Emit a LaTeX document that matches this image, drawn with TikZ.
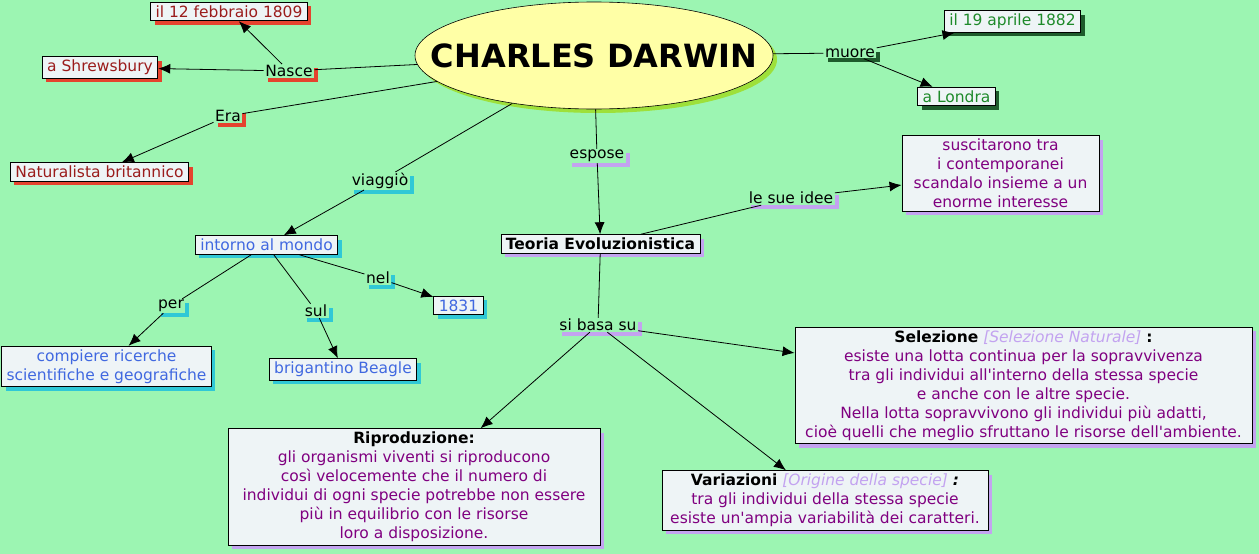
\documentclass[tikz,border=0pt]{standalone}
\usepackage{fontspec}
\setmainfont{DejaVu Sans}
\usepackage{xcolor}
\usepackage{tikz}
\usetikzlibrary{shapes.geometric,arrows.meta,shadows}
\definecolor{cdbg}{HTML}{9CF5B2}
\definecolor{cdbox}{HTML}{EEF4F6}
\definecolor{cdsun}{HTML}{FFFFA6}
\definecolor{cdlime}{HTML}{9EE03A}
\definecolor{cdred}{HTML}{E5432E}
\definecolor{cdwine}{HTML}{9B1C1C}
\definecolor{cdpine}{HTML}{1E5B2C}
\definecolor{cdleaf}{HTML}{1E8A2A}
\definecolor{cdlav}{HTML}{C3A3F0}
\definecolor{cdplum}{HTML}{800080}
\definecolor{cdteal}{HTML}{30C8D6}
\definecolor{cdroyal}{HTML}{4068E0}
\tikzset{
  concept/.style={rectangle,draw=black,line width=0.9pt,fill=cdbox,
                  inner xsep=5pt,inner ysep=3.3pt,align=center,
                  font=\fontsize{15.5}{19}\selectfont,
                  drop shadow={shadow xshift=4pt,shadow yshift=-4pt,fill=#1,opacity=1}},
  link/.style={rectangle,fill=cdbg,inner xsep=1.5pt,inner ysep=1pt,text=black,
               font=\fontsize{15.5}{19}\selectfont,
               drop shadow={shadow xshift=4pt,shadow yshift=-4pt,fill=#1,opacity=1}},
  hub/.style={ellipse,draw=black,line width=0.6pt,fill=cdsun,
              minimum width=358pt,minimum height=107pt,
              font=\fontsize{32}{38}\selectfont\bfseries,
              drop shadow={shadow xshift=4pt,shadow yshift=-4pt,fill=cdlime,opacity=1}},
  arc/.style={line width=0.8pt,draw=black},
  arcto/.style={arc,-{Latex[length=12pt,width=10pt]}},
}

\begin{document}
\begin{tikzpicture}[x=1pt,y=-1pt]
  \useasboundingbox (0,0) rectangle (1259,554);
  \fill[cdbg] (0,0) rectangle (1259,554);

  \node[hub] (darwin) at (594,55.5) {\makebox[0pt]{CHARLES DARWIN}};

  \node[link=cdred] (nasce) at (289,71) {Nasce};
  \node[link=cdred] (era) at (228,116) {Era};
  \node[link=cdpine] (muore) at (850,53) {muore};
  \node[link=cdteal] (viaggio) at (380,181) {viaggiò};
  \node[link=cdlav] (espose) at (597,156) {espose};
  \node[link=cdlav] (idee) at (791,198) {le sue idee};
  \node[link=cdlav] (basa) at (598,325) {si basa su};
  \node[link=cdteal] (per) at (171,306) {per};
  \node[link=cdteal] (sul) at (316,311) {sul};
  \node[link=cdteal] (nel) at (378,278) {nel};

  \node[concept=cdred,text=cdwine] (febbraio) at (229,11.5) {il 12 febbraio 1809};
  \node[concept=cdred,text=cdwine] (shrews) at (100,67.5) {a Shrewsbury};
  \node[concept=cdred,text=cdwine] (natur) at (99.5,172) {Naturalista britannico};
  \node[concept=cdpine,text=cdleaf] (aprile) at (1012.5,21.5) {il 19 aprile 1882};
  \node[concept=cdpine,text=cdleaf] (londra) at (956.5,96.5) {a Londra};
  \node[concept=cdlav,text=cdplum,minimum width=197pt] (scandalo) at (1000.5,173.5)
    {suscitarono tra\\ i contemporanei\\scandalo insieme a un\\enorme interesse};
  \node[concept=cdlav,text=black] (teoria) at (600.5,244) {\bfseries Teoria Evoluzionistica};
  \node[concept=cdlav,text=cdplum,minimum width=457pt] (selez) at (1023.5,385.5)
    {{\color{black}\bfseries Selezione} {\color{cdlav}\itshape [Selezione Naturale]} {\color{black}\bfseries :}\\
     esiste una lotta continua per la sopravvivenza\\
     tra gli individui all\textquotesingle interno della stessa specie\\
     e anche con le altre specie.\\
     Nella lotta sopravvivono gli individui più adatti,\\
     cioè quelli che meglio sfruttano le risorse dell\textquotesingle ambiente.};
  \node[concept=cdlav,text=cdplum,minimum width=372pt] (ripro) at (414,487)
    {{\color{black}\bfseries Riproduzione:}\\
     gli organismi viventi si riproducono\\
     così velocemente che il numero di\\
     individui di ogni specie potrebbe non essere\\
     più in equilibrio con le risorse\\
     loro a disposizione.};
  \node[concept=cdlav,text=cdplum,minimum width=326pt] (varia) at (825,500.5)
    {{\color{black}\bfseries Variazioni} {\color{cdlav}\itshape [Origine della specie]} {\color{black}\bfseries\itshape :}\\
     tra gli individui della stessa specie\\
     esiste un\textquotesingle ampia variabilità dei caratteri.};
  \node[concept=cdteal,text=cdroyal] (mondo) at (266.5,245) {intorno al mondo};
  \node[concept=cdteal,text=cdroyal] (anno) at (458.5,305.5) {1831};
  \node[concept=cdteal,text=cdroyal] (beagle) at (343,369.5) {brigantino Beagle};
  \node[concept=cdteal,text=cdroyal] (ricerche) at (106.5,366.5)
    {compiere ricerche\\scientifiche e geografiche};

  \draw[arc] (darwin) -- (nasce);
  \draw[arcto] (nasce) -- (febbraio);
  \draw[arcto] (nasce) -- (shrews);
  \draw[arc] (darwin) -- (era);
  \draw[arcto] (era) -- (natur);
  \draw[arc] (darwin) -- (muore);
  \draw[arcto] (muore) -- (aprile);
  \draw[arcto] (muore) -- (londra);
  \draw[arc] (darwin) -- (viaggio);
  \draw[arcto] (viaggio) -- (mondo);
  \draw[arc] (mondo) -- (per);
  \draw[arcto] (per) -- (ricerche);
  \draw[arc] (mondo) -- (sul);
  \draw[arcto] (sul) -- (beagle);
  \draw[arc] (mondo) -- (nel);
  \draw[arcto] (nel) -- (anno);
  \draw[arc] (darwin) -- (espose);
  \draw[arcto] (espose) -- (teoria);
  \draw[arc] (teoria) -- (idee);
  \draw[arcto] (idee) -- (scandalo);
  \draw[arc] (teoria) -- (basa);
  \draw[arcto] (basa) -- (selez);
  \draw[arcto] (basa) -- (ripro);
  \draw[arcto] (basa) -- (varia);
\end{tikzpicture}
\end{document}
